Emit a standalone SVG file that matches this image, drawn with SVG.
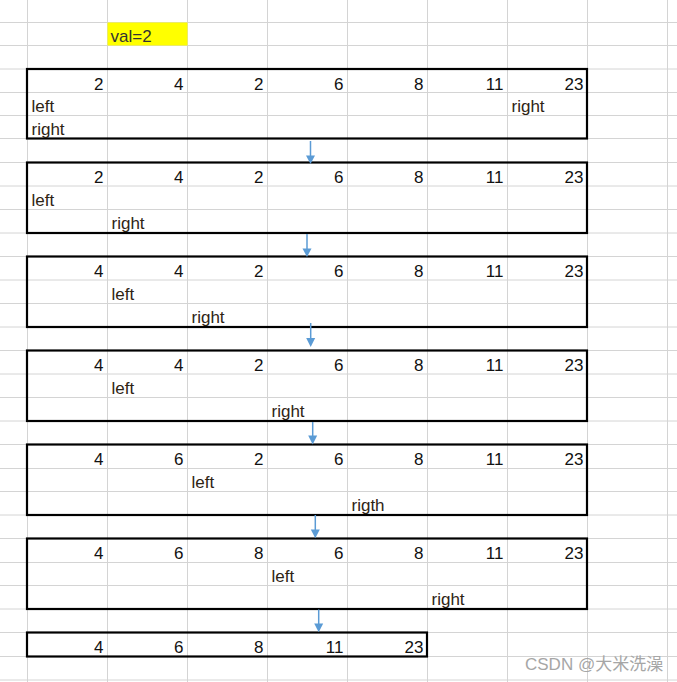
<svg xmlns="http://www.w3.org/2000/svg" width="677" height="682" viewBox="0 0 677 682">
<style>
.grid{stroke:#d4d4d4;stroke-width:1;fill:none}
.box{fill:none;stroke:#000;stroke-width:2.2}
text{font-family:"Liberation Sans",Arial,"Noto Sans CJK SC",sans-serif;font-size:17px}
.n{fill:#111;text-anchor:end}
.w{fill:#2e2414}
.arr{stroke:#5b9bd5;stroke-width:1.5;fill:none}
.head{fill:#5b9bd5}
.wm{fill:#a6a6a6;font-size:17px}
</style>
<rect x="0" y="0" width="677" height="682" fill="#fff"/>
<g id="grid" class="grid">
<path d="M27.5 0V682M107.5 0V682M187.5 0V682M267.5 0V682M347.5 0V682M427.5 0V682M507.5 0V682M587.5 0V682M667.5 0V682"/>
<path d="M0 22.5H677M0 45.5H677M0 69H677M0 92.5H677M0 115.5H677M0 138.5H677M0 162.5H677M0 186H677M0 209.5H677M0 233H677M0 256.5H677M0 280H677M0 303.5H677M0 327H677M0 350.5H677M0 374H677M0 397.5H677M0 421H677M0 444.5H677M0 468.5H677M0 491.5H677M0 515H677M0 538.5H677M0 562.5H677M0 585.5H677M0 609H677M0 632.5H677M0 656.5H677M0 680H677"/>
</g>
<g id="val">
<rect x="107.5" y="22.5" width="80" height="23" fill="#ffff00"/>
<text x="110.5" y="41.5" fill="#333">val=2</text>
</g>
<g id="box1">
<rect class="box" x="27" y="69" width="560" height="69.5"/>
<text class="n" x="103.5" y="89.5">2</text><text class="n" x="183.5" y="89.5">4</text><text class="n" x="263.5" y="89.5">2</text><text class="n" x="343.5" y="89.5">6</text><text class="n" x="423.5" y="89.5">8</text><text class="n" x="503.5" y="89.5">11</text><text class="n" x="583.5" y="89.5">23</text>
<text class="w" x="31.5" y="111.5">left</text><text class="w" x="511.5" y="111.5">right</text>
<text class="w" x="31.5" y="134.5">right</text>
</g>
<g id="box2">
<rect class="box" x="27" y="162.5" width="560" height="70.5"/>
<text class="n" x="103.5" y="183">2</text><text class="n" x="183.5" y="183">4</text><text class="n" x="263.5" y="183">2</text><text class="n" x="343.5" y="183">6</text><text class="n" x="423.5" y="183">8</text><text class="n" x="503.5" y="183">11</text><text class="n" x="583.5" y="183">23</text>
<text class="w" x="31.5" y="205.5">left</text>
<text class="w" x="111.5" y="229">right</text>
</g>
<g id="box3">
<rect class="box" x="27" y="256.5" width="560" height="70.5"/>
<text class="n" x="103.5" y="277">4</text><text class="n" x="183.5" y="277">4</text><text class="n" x="263.5" y="277">2</text><text class="n" x="343.5" y="277">6</text><text class="n" x="423.5" y="277">8</text><text class="n" x="503.5" y="277">11</text><text class="n" x="583.5" y="277">23</text>
<text class="w" x="111.5" y="299.5">left</text>
<text class="w" x="191.5" y="323">right</text>
</g>
<g id="box4">
<rect class="box" x="27" y="350.5" width="560" height="70.5"/>
<text class="n" x="103.5" y="371">4</text><text class="n" x="183.5" y="371">4</text><text class="n" x="263.5" y="371">2</text><text class="n" x="343.5" y="371">6</text><text class="n" x="423.5" y="371">8</text><text class="n" x="503.5" y="371">11</text><text class="n" x="583.5" y="371">23</text>
<text class="w" x="111.5" y="393.5">left</text>
<text class="w" x="271.5" y="417">right</text>
</g>
<g id="box5">
<rect class="box" x="27" y="444.5" width="560" height="70.5"/>
<text class="n" x="103.5" y="465">4</text><text class="n" x="183.5" y="465">6</text><text class="n" x="263.5" y="465">2</text><text class="n" x="343.5" y="465">6</text><text class="n" x="423.5" y="465">8</text><text class="n" x="503.5" y="465">11</text><text class="n" x="583.5" y="465">23</text>
<text class="w" x="191.5" y="487.5">left</text>
<text class="w" x="351.5" y="511">rigth</text>
</g>
<g id="box6">
<rect class="box" x="27" y="538.5" width="560" height="70.5"/>
<text class="n" x="103.5" y="559">4</text><text class="n" x="183.5" y="559">6</text><text class="n" x="263.5" y="559">8</text><text class="n" x="343.5" y="559">6</text><text class="n" x="423.5" y="559">8</text><text class="n" x="503.5" y="559">11</text><text class="n" x="583.5" y="559">23</text>
<text class="w" x="271.5" y="581.5">left</text>
<text class="w" x="431.5" y="605">right</text>
</g>
<g id="box7">
<rect class="box" x="27" y="632.5" width="400" height="24"/>
<text class="n" x="103.5" y="653">4</text><text class="n" x="183.5" y="653">6</text><text class="n" x="263.5" y="653">8</text><text class="n" x="343.5" y="653">11</text><text class="n" x="423.5" y="653">23</text>
</g>
<g id="connectors">
<path class="arr" d="M310.5 141V157"/><polygon class="head" points="306,155.5 315,155.5 310.5,164"/>
<path class="arr" d="M307 234V250"/><polygon class="head" points="302.5,248.5 311.5,248.5 307,257"/>
<path class="arr" d="M310.7 323V340"/><polygon class="head" points="306.2,338 315.2,338 310.7,347"/>
<path class="arr" d="M312.7 422V437"/><polygon class="head" points="308.2,435.5 317.2,435.5 312.7,444.5"/>
<path class="arr" d="M315.3 515V531"/><polygon class="head" points="310.8,529.5 319.8,529.5 315.3,538.3"/>
<path class="arr" d="M318.7 609.5V625"/><polygon class="head" points="314.2,623.5 323.2,623.5 318.7,632.3"/>
</g>
<text class="wm" x="525" y="670">CSDN @大米洗澡</text>
</svg>
